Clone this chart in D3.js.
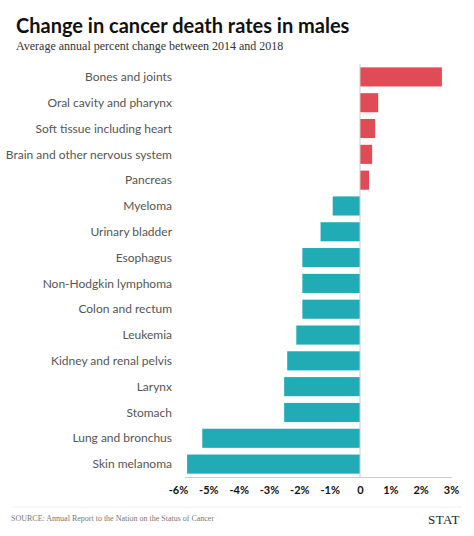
<!DOCTYPE html>
<html><head><meta charset="utf-8">
<script src="https://cdn.jsdelivr.net/npm/d3@7"></script>
<style>body{margin:0;background:#fff}</style>
</head><body>
<svg id="chart" width="474" height="536"></svg>
<script>
// data
var categories = ["Bones and joints","Oral cavity and pharynx","Soft tissue including heart",
  "Brain and other nervous system","Pancreas","Myeloma","Urinary bladder","Esophagus",
  "Non-Hodgkin lymphoma","Colon and rectum","Leukemia","Kidney and renal pelvis","Larynx",
  "Stomach","Lung and bronchus","Skin melanoma"];
var values = [2.7, 0.6, 0.5, 0.4, 0.3, -0.9, -1.3, -1.9, -1.9, -1.9, -2.1, -2.4, -2.5, -2.5, -5.2, -5.7];
var ticks = [-6, -5, -4, -3, -2, -1, 0, 1, 2, 3];

var svg = d3.select("#chart");
var x = d3.scaleLinear().domain([-6, 3]).range([178, 451]);
var y = d3.scaleBand().domain(categories).range([64, 477]).paddingInner(0.26).paddingOuter(0.13);

svg.append("text").attr("x", 16).attr("y", 33)
  .style("font", "bold 20px Lato, 'Open Sans', sans-serif").attr("fill", "#111")
  .text("Change in cancer death rates in males");
svg.append("text").attr("x", 16).attr("y", 50)
  .style("font", "12px 'Liberation Serif', 'DejaVu Serif', serif").attr("fill", "#333")
  .text("Average annual percent change between 2014 and 2018");

svg.selectAll("rect.bar").data(values).enter().append("rect")
  .attr("class", "bar")
  .attr("x", function(d){ return x(Math.min(0, d)); })
  .attr("width", function(d){ return Math.abs(x(d) - x(0)); })
  .attr("y", function(d, i){ return y(categories[i]); })
  .attr("height", y.bandwidth())
  .attr("fill", function(d){ return d > 0 ? "#e04b55" : "#20abb5"; });

svg.selectAll("text.lab").data(categories).enter().append("text")
  .attr("class", "lab")
  .attr("x", 172).attr("y", function(d){ return y(d) + y.bandwidth() / 2; })
  .attr("dy", "0.35em").attr("text-anchor", "end")
  .style("font", "12px Lato, 'Open Sans', sans-serif").attr("fill", "#555")
  .text(function(d){ return d; });

// zero line and bottom axis
svg.append("line").attr("x1", x(0)).attr("x2", x(0)).attr("y1", 64).attr("y2", 477)
  .attr("stroke", "#ccc").attr("stroke-width", 1);
var axis = svg.append("g").attr("transform", "translate(0,477)")
  .call(d3.axisBottom(x).tickValues(ticks).tickSize(0).tickPadding(9)
    .tickFormat(function(d){ return d === 0 ? "0" : d + "%"; }));
axis.select(".domain").attr("stroke", "#ccc").attr("d", "M185,0.5H452");
axis.selectAll("text").style("font", "bold 11px Lato, 'Open Sans', sans-serif").attr("fill", "#111");

svg.append("line").attr("x1", 12).attr("x2", 462).attr("y1", 507).attr("y2", 507)
  .attr("stroke", "#eee");
svg.append("text").attr("x", 11).attr("y", 521)
  .style("font", "8px 'Liberation Serif', serif").attr("fill", "#777")
  .text("SOURCE: Annual Report to the Nation on the Status of Cancer");
svg.append("text").attr("x", 460).attr("y", 524).attr("text-anchor", "end")
  .style("font", "13px 'Liberation Serif', serif").attr("fill", "#222").attr("letter-spacing", "0.5")
  .text("STAT");
</script>
</body></html>
